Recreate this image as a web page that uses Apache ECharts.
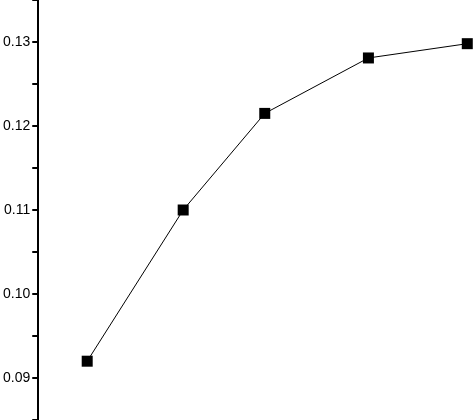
<!DOCTYPE html>
<html>
<head>
<meta charset="utf-8">
<script src="https://cdn.jsdelivr.net/npm/echarts@6/dist/echarts.min.js"></script>
<style>html,body{margin:0;padding:0;background:#fff}#chart{width:474px;height:420px}</style>
</head>
<body>
<div id="chart"></div>
<script>
// x positions (uneven spacing), y values
var xValues = [1, 2, 2.85, 3.93, 4.96];
var yValues = [0.0920, 0.1100, 0.1215, 0.1281, 0.1298];

var chart = echarts.init(document.getElementById('chart'));
chart.setOption({
	animation: false,
	grid: {left: 38, right: 0, top: 0, bottom: 0},
	xAxis: {
		type: 'value', min: 0.49, max: 5.03,
		show: false
	},
	yAxis: {
		type: 'value', min: 0.085, max: 0.135, interval: 0.005,
		axisLine: {show: true, lineStyle: {color: '#000', width: 2}},
		axisTick: {show: true, length: 6, lineStyle: {color: '#000', width: 2}},
		splitLine: {show: false},
		axisLabel: {
			color: '#000', fontSize: 14, fontFamily: 'Liberation Sans', margin: 8,
			formatter: function (v) {
				var r = Math.round(v * 1000);
				return (r % 10 === 0 && r >= 90 && r <= 130) ? (r / 1000).toFixed(2) : '';
			}
		}
	},
	series: [{
		type: 'line',
		data: xValues.map(function (x, i) { return [x, yValues[i]]; }),
		symbol: 'rect', symbolSize: 11,
		itemStyle: {color: '#000'},
		lineStyle: {color: '#000', width: 1}
	}]
});
</script>
</body>
</html>
